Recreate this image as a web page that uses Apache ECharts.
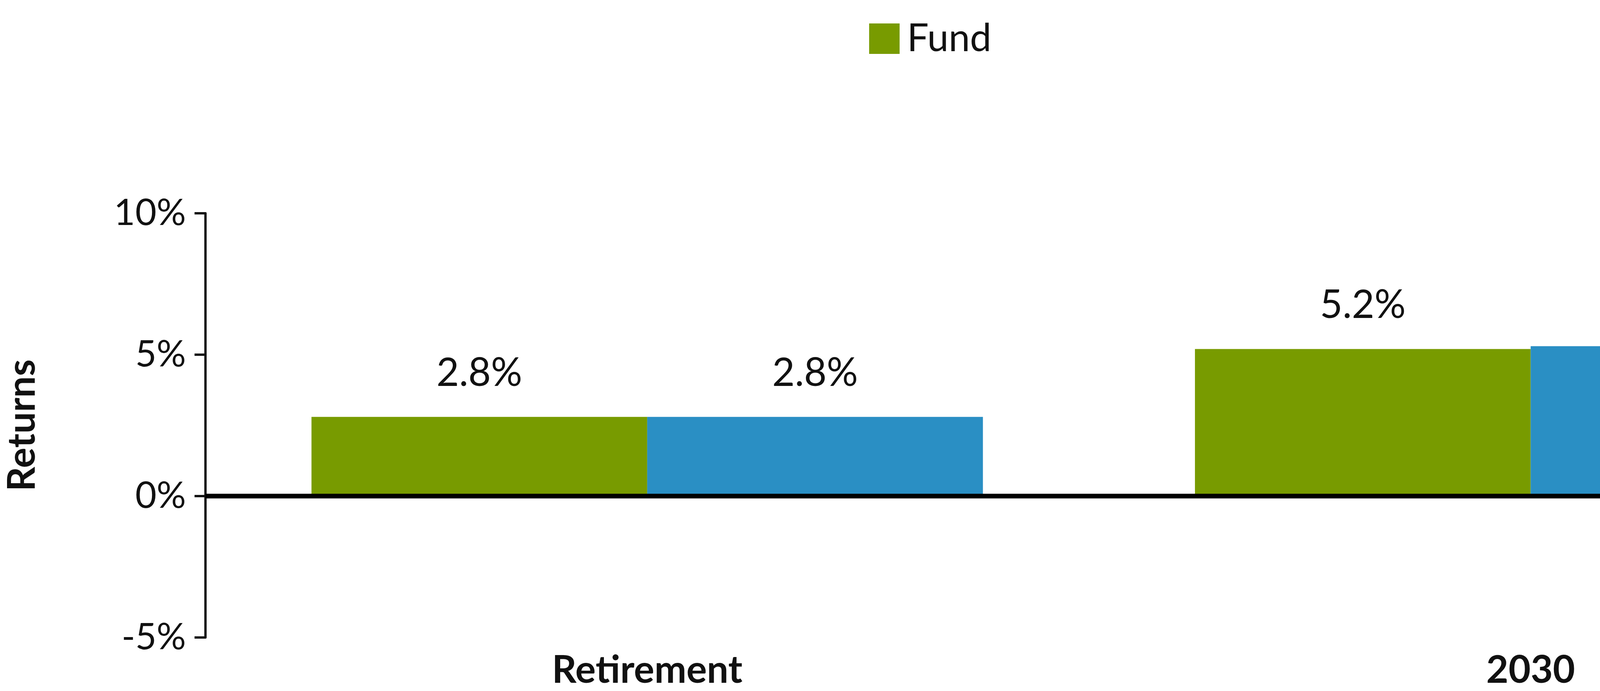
<!DOCTYPE html>
<html><head><meta charset="utf-8">
<script src="https://cdn.jsdelivr.net/npm/echarts@6/dist/echarts.min.js"></script>
<style>html,body{margin:0;padding:0;background:#fff}#c{width:7311px;height:1769px}</style>
</head><body><div id="c"></div>
<script>
const categories = ['Retirement', '2030', '2050'];
const fundValues = [2.8, 5.2, 7.1];
const benchValues = [2.8, 5.3, 7.1];
const yTicks = [-5, 0, 5, 10];

const F = 'Lato, "Open Sans", sans-serif';
const chart = echarts.init(document.getElementById('c'));
const labelCfg = {show: true, position: 'top', distance: 62, fontFamily: F, fontSize: 100, color: '#111', formatter: p => p.value.toFixed(1) + '%'};
chart.setOption({
  animation: false,
  legend: [
    {data: ['Fund'], icon: 'rect', left: 2220, top: 45, itemWidth: 78, itemHeight: 78, textStyle: {fontFamily: F, fontSize: 98, color: '#111', padding: [0,0,0,14]}},
    {data: ['Composite Benchmark'], icon: 'rect', left: 4108, top: 45, itemWidth: 78, itemHeight: 78, textStyle: {fontFamily: F, fontSize: 98, color: '#111', padding: [0,0,0,14]}}
  ],
  grid: {left: 490, top: 546, width: 6869, bottom: 137, containLabel: false},
  xAxis: {type: 'category', data: categories, axisLine: {show: false}, axisTick: {show: false},
    axisLabel: {fontFamily: F, fontSize: 98, fontWeight: 'bold', color: '#111', margin: 35}},
  yAxis: {type: 'value', min: yTicks[0], max: yTicks[yTicks.length-1], interval: 5,
    name: 'Returns', nameLocation: 'middle', nameGap: 420, nameRotate: 90,
    nameTextStyle: {fontFamily: F, fontSize: 98, fontWeight: 'bold', color: '#111'},
    axisLine: {show: true, lineStyle: {color: '#111', width: 6}},
    axisTick: {show: true, length: 28, lineStyle: {color: '#111', width: 6}},
    splitLine: {show: false},
    axisLabel: {formatter: '{value}%', fontFamily: F, fontSize: 94, color: '#111', margin: 50}},
  series: [
    {name: 'Fund', type: 'bar', data: fundValues, itemStyle: {color: '#789b00'}, barGap: '0%', barCategoryGap: '24%', label: labelCfg,
      markLine: {silent: true, symbol: 'none', label: {show: false}, lineStyle: {color: '#000', width: 12, type: 'solid'}, data: [{yAxis: 0}]}},
    {name: 'Composite Benchmark', type: 'bar', data: benchValues, itemStyle: {color: '#2a8fc4'}, barGap: '0%', barCategoryGap: '24%', label: labelCfg}
  ]
});
</script></body></html>
